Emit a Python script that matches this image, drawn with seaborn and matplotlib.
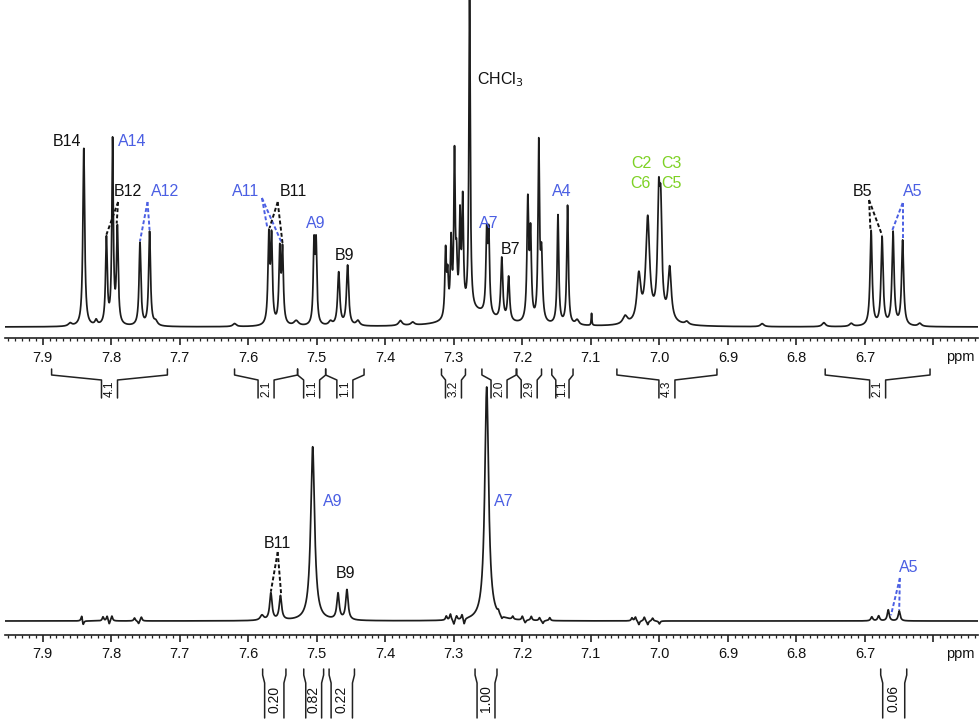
import numpy as np
import pandas as pd
import seaborn as sns
import matplotlib
matplotlib.use("Agg")
import matplotlib.pyplot as plt
from matplotlib.ticker import FixedLocator, MultipleLocator

# ---- peak lists (ppm, height above baseline, half width in ppm)
top_ppm = [7.860, 7.840, 7.822, 7.807, 7.798, 7.791, 7.758, 7.744, 7.735,
           7.620, 7.570, 7.566, 7.554, 7.550, 7.530, 7.504, 7.501, 7.480,
           7.468, 7.455, 7.440, 7.378, 7.360, 7.312, 7.309, 7.304, 7.299,
           7.296, 7.291, 7.287, 7.277, 7.270, 7.252, 7.249, 7.230, 7.220,
           7.192, 7.188, 7.176, 7.172, 7.148, 7.134, 7.120, 7.099, 7.050,
           7.030, 7.017, 7.001, 6.998, 6.985, 7.000, 6.960, 6.850, 6.760,
           6.720, 6.691, 6.675, 6.659, 6.645, 6.620]
top_height = [3, 178, 5, 86, 183, 95, 83, 94, 4,
              3, 86, 84, 72, 72, 5, 77, 77, 4,
              53, 60, 5, 5, 3, 66, 38, 72, 156,
              46, 92, 108, 314, 14, 77, 77, 62, 44,
              118, 84, 175, 64, 109, 119, 5, 12, 8,
              46, 102, 106, 96, 52, 6, 3, 3, 4,
              3, 95, 88, 93, 85, 3]
top_width = [0.003, 0.0016, 0.002, 0.0015, 0.0013, 0.0015, 0.0016, 0.0016, 0.003,
             0.003, 0.0015, 0.0015, 0.0015, 0.0015, 0.004, 0.0014, 0.0014, 0.003,
             0.0019, 0.0019, 0.003, 0.003, 0.003, 0.0013, 0.0013, 0.0013, 0.0012,
             0.0013, 0.0013, 0.0013, 0.0012, 0.03, 0.0014, 0.0014, 0.0017, 0.0017,
             0.0015, 0.0015, 0.0013, 0.0017, 0.0014, 0.0014, 0.003, 0.0006, 0.004,
             0.0033, 0.0033, 0.0020, 0.0020, 0.0028, 0.02, 0.003, 0.003, 0.003,
             0.003, 0.0018, 0.0018, 0.0018, 0.0018, 0.003]

bot_ppm = [7.843, 7.841, 7.812, 7.806, 7.803, 7.799, 7.766, 7.760, 7.756,
           7.580, 7.567, 7.553, 7.506, 7.469, 7.456,
           7.311, 7.305, 7.300, 7.296, 7.288, 7.285, 7.252,
           7.235, 7.230, 7.214, 7.200, 7.196, 7.187, 7.175, 7.170, 7.160,
           7.040, 7.035, 7.030, 7.022, 7.017, 7.010, 7.000,
           6.690, 6.680, 6.666, 6.650]
bot_height = [6, -5, 4, 5, -4, 5, 3, -3, 4,
              5, 27, 24, 174, 26, 30,
              4, 6, -5, 4, 5, -6, 234,
              3, -3, 3, 4, -3, 4, 3, -3, 3,
              3, 4, -4, 4, -4, 3, -3,
              4, 5, 11, 10]
bot_width = [0.0013, 0.0013, 0.0013, 0.0013, 0.0013, 0.0013, 0.0013, 0.0013, 0.0013,
             0.003, 0.0021, 0.0021, 0.0034, 0.0021, 0.0021,
             0.0013, 0.0013, 0.0013, 0.0013, 0.0013, 0.0013, 0.0034,
             0.0013, 0.0013, 0.0013, 0.0013, 0.0013, 0.0013, 0.0013, 0.0013, 0.0013,
             0.0013, 0.0013, 0.0013, 0.0013, 0.0013, 0.0013, 0.0013,
             0.0017, 0.0017, 0.0017, 0.0017]

# integrals: (left ppm, right ppm, value)
top_int_left = [7.887, 7.620, 7.528, 7.487, 7.318, 7.259, 7.208, 7.157, 7.062, 6.758]
top_int_right = [7.718, 7.528, 7.487, 7.431, 7.283, 7.209, 7.172, 7.126, 6.916, 6.605]
top_int_val = ["4.1", "2.1", "1.1", "1.1", "3.2", "2.0", "2.9", "1.1", "4.3", "2.1"]
bot_int_left = [7.579, 7.519, 7.482, 7.269, 6.677]
bot_int_right = [7.545, 7.490, 7.445, 7.237, 6.639]
bot_int_val = ["0.20", "0.82", "0.22", "1.00", "0.06"]

BLUE = "#4b5fe3"
GREEN = "#7dd124"
BLACK = "#111111"

# peak labels: text, ppm, height, colour
top_labels = [("B14", 7.865, 186, BLACK), ("A14", 7.770, 186, BLUE),
              ("B12", 7.776, 135, BLACK), ("A12", 7.722, 135, BLUE),
              ("A11", 7.604, 135, BLUE), ("B11", 7.534, 135, BLACK),
              ("A9", 7.501, 104, BLUE), ("B9", 7.459, 71, BLACK),
              ("A7", 7.249, 104, BLUE), ("B7", 7.218, 78, BLACK),
              ("A4", 7.142, 135, BLUE),
              ("C2", 7.027, 164, GREEN), ("C6", 7.027, 143, GREEN),
              ("C3", 6.982, 164, GREEN), ("C5", 6.982, 143, GREEN),
              ("B5", 6.704, 135, BLACK), ("A5", 6.631, 135, BLUE)]
bot_labels = [("B11", 7.557, 78, BLACK), ("A9", 7.477, 119, BLUE),
              ("B9", 7.458, 48, BLACK), ("A7", 7.227, 119, BLUE),
              ("A5", 6.636, 53, BLUE)]

# dashed connectors: apex ppm, apex height, peaks it points to, colour
top_links = [(7.790, 125, [7.807, 7.792], BLACK), (7.747, 125, [7.758, 7.744], BLUE),
             (7.580, 129, [7.572, 7.551], BLUE), (7.557, 125, [7.569, 7.550], BLACK),
             (6.694, 127, [6.692, 6.675], BLACK), (6.645, 124, [6.660, 6.645], BLUE)]
bot_links = [(7.557, 69, [7.567, 7.552], BLACK), (6.649, 43, [6.662, 6.650], BLUE)]


def spectrum(x, ppm, height, width):
    y = np.zeros_like(x)
    for p, h, w in zip(ppm, height, width):
        y += h * w ** 2 / ((x - p) ** 2 + w ** 2)
    return y


x = np.linspace(7.955, 6.535, 30000)
df = pd.DataFrame({"ppm": x,
                   "top": spectrum(x, top_ppm, top_height, top_width),
                   "bot": spectrum(x, bot_ppm, bot_height, bot_width)})

sns.set_style("ticks")
plt.rcParams["font.family"] = ["Liberation Sans", "DejaVu Sans"]

fig = plt.figure(figsize=(9.8, 7.22), dpi=100)
W, H = 980.0, 722.0
PX = 1 / 685.0  # ppm per pixel

ax_top = fig.add_axes([5 / W, 1 - 338 / H, 973 / W, 338 / H])
ax_bot = fig.add_axes([5 / W, 1 - 635 / H, 973 / W, 255 / H])
ax_top.set_zorder(3)
ax_top.set_facecolor("none")
ax_bot.set_facecolor("none")

panels = [(ax_top, "top", (-11, 327), 338, 338),
          (ax_bot, "bot", (-14, 241), 635, 255)]

for ax, col, ylim, base_px, h_px in panels:
    sns.lineplot(data=df, x="ppm", y=col, ax=ax, color="#1c1c1c", lw=1.25,
                 estimator=None, sort=False)
    ax.set_xlim(7.955, 6.535)
    ax.set_ylim(*ylim)
    for s in ["top", "left", "right"]:
        ax.spines[s].set_visible(False)
    ax.spines["bottom"].set_linewidth(1.2)
    ax.spines["bottom"].set_color("#222222")
    ax.set_yticks([])
    ax.set_xlabel("")
    ax.set_ylabel("")
    ticks = [round(7.9 - 0.1 * i, 1) for i in range(14)]
    ax.xaxis.set_major_locator(FixedLocator(ticks))
    ax.set_xticklabels([f"{t:.1f}" if t > 6.65 else "" for t in ticks], fontsize=10.5)
    ax.xaxis.set_minor_locator(MultipleLocator(0.01))
    ax.tick_params(axis="x", which="major", direction="out", length=5, width=1.2,
                   pad=4, color="#222222", labelcolor="#111111")
    ax.tick_params(axis="x", which="minor", direction="out", length=2.5, width=0.9,
                   color="#222222")
    yf = lambda ypx, b=base_px, h=h_px: (b - ypx) / h
    ax.text((975 - 5) / 973, yf(base_px + 19), "ppm", transform=ax.transAxes,
            ha="right", va="center", fontsize=10.5, color="#111111")

# integration brackets, top panel
tr = ax_top.get_xaxis_transform()
yt = lambda ypx: (338 - ypx) / 338
for a, b, v in zip(top_int_left, top_int_right, top_int_val):
    c = (a + b) / 2
    g = min(8, (a - b) / PX / 2 - 4) * PX
    ax_top.plot([a, a, c + g, c + g], [yt(369), yt(375), yt(380), yt(398)],
                color="#222222", lw=1.1, transform=tr, clip_on=False)
    ax_top.plot([c - g, c - g, b, b], [yt(398), yt(380), yt(375), yt(369)],
                color="#222222", lw=1.1, transform=tr, clip_on=False)
    ax_top.text(c, yt(389), v, rotation=90, ha="center", va="center", fontsize=8.5,
                transform=tr, color="#111111", clip_on=False)

# integration brackets, bottom panel
tr = ax_bot.get_xaxis_transform()
yb = lambda ypx: (635 - ypx) / 255
for a, b, v in zip(bot_int_left, bot_int_right, bot_int_val):
    c = (a + b) / 2
    for e, s in [(a, -1), (b, 1)]:
        ax_bot.plot([e, e, e + s * 2 * PX, e + s * 2 * PX],
                    [yb(669), yb(675), yb(683), yb(718)],
                    color="#222222", lw=1.1, transform=tr, clip_on=False)
    ax_bot.text(c, yb(699), v, rotation=90, ha="center", va="center", fontsize=10,
                transform=tr, color="#111111")

# peak labels and dashed connectors
for ax, col, labels, links in [(ax_top, "top", top_labels, top_links),
                               (ax_bot, "bot", bot_labels, bot_links)]:
    for t, p, h, c in labels:
        ax.text(p, h, t, ha="center", va="center", fontsize=11.5, color=c)
    for p0, h0, targets, c in links:
        for p in targets:
            win = df[(df.ppm > p - 0.002) & (df.ppm < p + 0.002)][col].max()
            ax.plot([p0, p], [h0, win + 1], ls=(0, (2, 1.2)), lw=1.4, color=c)

ax_top.text(7.266, 247, "CHCl$_3$", ha="left", va="center", fontsize=11.5,
            color=BLACK)

fig.savefig("out.png", dpi=100)
